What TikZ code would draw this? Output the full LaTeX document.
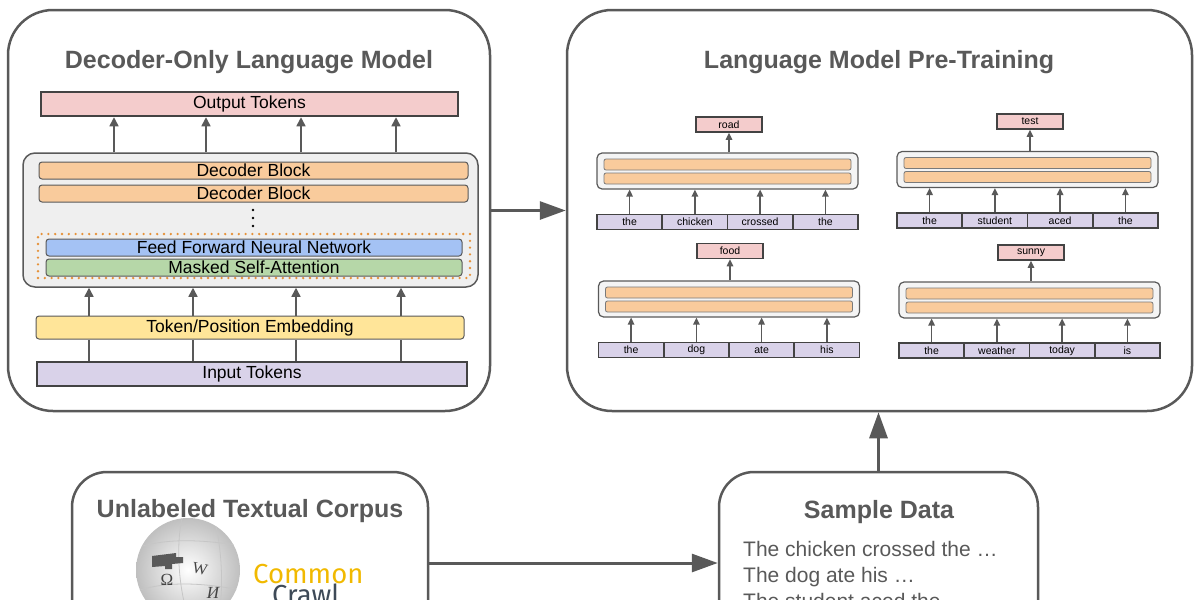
\documentclass[tikz,border=0pt]{standalone}
\usepackage{fontspec}
\setmainfont{Liberation Sans}
\newfontfamily\globefont{Liberation Serif}
\newfontfamily\crawlfont{Fira Sans}
\usetikzlibrary{arrows.meta}

\definecolor{lineGray}{HTML}{595959}
\definecolor{darkGray}{HTML}{434343}
\definecolor{outPink}{HTML}{F4CCCC}
\definecolor{blockOrange}{HTML}{F9CB9C}
\definecolor{stackGray}{HTML}{EFEFEF}
\definecolor{ffnBlue}{HTML}{A4C2F4}
\definecolor{attnGreen}{HTML}{B6D7A8}
\definecolor{embYellow}{HTML}{FFE599}
\definecolor{inPurple}{HTML}{D9D2E9}
\definecolor{dotOrange}{HTML}{E69138}
\definecolor{ccYellow}{HTML}{F1B900}
\definecolor{ccSlate}{HTML}{3E4A57}

\tikzset{
  panel/.style={draw=lineGray, line width=2.5pt, rounded corners=45pt, inner sep=0pt},
  corpusbox/.style={draw=lineGray, line width=2.5pt, rounded corners=35pt, inner sep=0pt},
  title/.style={anchor=base, inner sep=0pt, text=lineGray, font=\fontsize{25}{30}\selectfont\bfseries},
  tokbar/.style={draw=darkGray, line width=2.5pt, inner sep=0pt, font=\fontsize{17.5}{18}\selectfont},
  stack/.style={draw=lineGray, line width=1.5pt, fill=stackGray, rounded corners=12pt, inner sep=0pt},
  block/.style={draw=lineGray, line width=1pt, rounded corners=3pt, inner sep=0pt,
    minimum width=429pt, minimum height=17pt, font=\fontsize{17.5}{18}\selectfont},
  arr/.style={draw=lineGray, line width=1.5pt, -{Triangle[length=9pt,width=9pt]}},
  link/.style={draw=lineGray, line width=1.5pt},
  bigarr/.style={draw=lineGray, line width=3pt, -{Triangle[length=26pt,width=18pt]}},
  ministack/.style={draw=lineGray, line width=1.2pt, fill=gray!9, rounded corners=5pt,
    inner sep=0pt, minimum width=261pt, minimum height=36pt},
  minibar/.style={draw=lineGray!80, line width=0.8pt, fill=blockOrange, rounded corners=2pt,
    inner sep=0pt, minimum width=247pt, minimum height=11pt},
  miniout/.style={draw=darkGray, line width=1.5pt, fill=outPink, inner sep=0pt,
    minimum width=66pt, minimum height=15pt, font=\fontsize{10.5}{11}\selectfont},
  minitok/.style={draw=darkGray, line width=1.5pt, fill=inPurple, inner sep=0pt,
    minimum width=65.25pt, minimum height=15pt, font=\fontsize{10.5}{11}\selectfont},
  miniarr/.style={draw=lineGray, line width=1.3pt, -{Triangle[length=7pt,width=6.5pt]}},
  sampletext/.style={anchor=base west, inner sep=0pt, text=lineGray, font=\fontsize{21}{26}\selectfont},
  vdot/.style={circle, fill=black, inner sep=0pt, minimum size=2.6pt}
}

\begin{document}
\begin{tikzpicture}[x=1pt,y=1pt,yscale=-1,xscale=1]
\useasboundingbox (0,0) rectangle (1200,600);
\clip (0,0) rectangle (1200,600);

%Shape: Decoder panel
\node[panel, minimum width=482pt, minimum height=401pt] (decPanel) at (249,210.5) {};
% Text Node
\node[title] (decTitle) at (249,68) {Decoder-Only Language Model};
\node[tokbar, fill=outPink, minimum width=417pt, minimum height=24pt] (outTok) at (249.5,104) {Output Tokens};
\node[stack, minimum width=455pt, minimum height=134pt] (decStack) at (250.5,220) {};
\node[block, fill=blockOrange] (blkA) at (253.5,170.5) {Decoder Block};
\node[block, fill=blockOrange] (blkB) at (253.5,193.5) {Decoder Block};
\node[vdot] (dotA) at (253,210) {};
\node[vdot] (dotB) at (253,218) {};
\node[vdot] (dotC) at (253,226) {};
\node[draw=dotOrange, line width=2.6pt, dash pattern=on 0pt off 6.8pt, line cap=round, inner sep=0pt,
  minimum width=432pt, minimum height=44pt] (layerBox) at (254,256) {};
\node[block, fill=ffnBlue, minimum width=416pt] (ffn) at (254,247.5) {Feed Forward Neural Network};
\node[block, fill=attnGreen, minimum width=416pt] (attn) at (254,267.5) {Masked Self-Attention};
\node[block, fill=embYellow, minimum width=428pt, minimum height=23pt] (emb) at (250,327.5) {Token/Position Embedding};
\node[tokbar, fill=inPurple, minimum width=430pt, minimum height=24pt] (inTok) at (252,374) {Input Tokens};

%Straight Lines: stack to output
\draw[arr] (decStack.north -| 114,0) -- (outTok.south -| 114,0);
\draw[arr] (decStack.north -| 206,0) -- (outTok.south -| 206,0);
\draw[arr] (decStack.north -| 301,0) -- (outTok.south -| 301,0);
\draw[arr] (decStack.north -| 396,0) -- (outTok.south -| 396,0);
%Straight Lines: embedding to stack
\draw[arr] (emb.north -| 89,0) -- (decStack.south -| 89,0);
\draw[arr] (emb.north -| 193,0) -- (decStack.south -| 193,0);
\draw[arr] (emb.north -| 296,0) -- (decStack.south -| 296,0);
\draw[arr] (emb.north -| 401,0) -- (decStack.south -| 401,0);
%Straight Lines: input to embedding
\draw[link] (inTok.north -| 89,0) -- (emb.south -| 89,0);
\draw[link] (inTok.north -| 193,0) -- (emb.south -| 193,0);
\draw[link] (inTok.north -| 296,0) -- (emb.south -| 296,0);
\draw[link] (inTok.north -| 401,0) -- (emb.south -| 401,0);

%Shape: Pre-training panel
\node[panel, minimum width=625pt, minimum height=401pt] (prePanel) at (879.5,210.5) {};
% Text Node
\node[title] (preTitle) at (879,68) {Language Model Pre-Training};
\draw[bigarr] (decPanel) -- (prePanel);

% Example: road
\begin{scope}[shift={(727.5,171)}]
\node[ministack] (aStack) at (0,0) {};
\node[minibar] (aBarA) at (0,-6.5) {};
\node[minibar] (aBarB) at (0,7.5) {};
\node[miniout] (aOut) at (1.5,-46.5) {road};
\node[minitok] (aTokA) at (-97.9,51) {the};
\node[minitok] (aTokB) at (-32.6,51) {chicken};
\node[minitok] (aTokC) at (32.6,51) {crossed};
\node[minitok] (aTokD) at (97.9,51) {the};
\draw[miniarr] (aOut |- aStack.north) -- (aOut.south);
\draw[miniarr] (aTokA.north) -- (aTokA |- aStack.south);
\draw[miniarr] (aTokB.north) -- (aTokB |- aStack.south);
\draw[miniarr] (aTokC.north) -- (aTokC |- aStack.south);
\draw[miniarr] (aTokD.north) -- (aTokD |- aStack.south);
\end{scope}

% Example: test
\begin{scope}[shift={(1027.5,169.5)}]
\node[ministack] (bStack) at (0,0) {};
\node[minibar] (bBarA) at (0,-6.5) {};
\node[minibar] (bBarB) at (0,7.5) {};
\node[miniout] (bOut) at (2.5,-48) {test};
\node[minitok] (bTokA) at (-97.9,51) {the};
\node[minitok] (bTokB) at (-32.6,51) {student};
\node[minitok] (bTokC) at (32.6,51) {aced};
\node[minitok] (bTokD) at (97.9,51) {the};
\draw[miniarr] (bOut |- bStack.north) -- (bOut.south);
\draw[miniarr] (bTokA.north) -- (bTokA |- bStack.south);
\draw[miniarr] (bTokB.north) -- (bTokB |- bStack.south);
\draw[miniarr] (bTokC.north) -- (bTokC |- bStack.south);
\draw[miniarr] (bTokD.north) -- (bTokD |- bStack.south);
\end{scope}

% Example: food
\begin{scope}[shift={(729,299)}]
\node[ministack] (cStack) at (0,0) {};
\node[minibar] (cBarA) at (0,-6.5) {};
\node[minibar] (cBarB) at (0,7.5) {};
\node[miniout] (cOut) at (1,-48) {food};
\node[minitok] (cTokA) at (-97.9,51) {the};
\node[minitok] (cTokB) at (-32.6,51) {dog};
\node[minitok] (cTokC) at (32.6,51) {ate};
\node[minitok] (cTokD) at (97.9,51) {his};
\draw[miniarr] (cOut |- cStack.north) -- (cOut.south);
\draw[miniarr] (cTokA.north) -- (cTokA |- cStack.south);
\draw[miniarr] (cTokB.north) -- (cTokB |- cStack.south);
\draw[miniarr] (cTokC.north) -- (cTokC |- cStack.south);
\draw[miniarr] (cTokD.north) -- (cTokD |- cStack.south);
\end{scope}

% Example: sunny
\begin{scope}[shift={(1029.5,300)}]
\node[ministack] (dStack) at (0,0) {};
\node[minibar] (dBarA) at (0,-6.5) {};
\node[minibar] (dBarB) at (0,7.5) {};
\node[miniout] (dOut) at (1.5,-47.5) {sunny};
\node[minitok] (dTokA) at (-97.9,50.5) {the};
\node[minitok] (dTokB) at (-32.6,50.5) {weather};
\node[minitok] (dTokC) at (32.6,50.5) {today};
\node[minitok] (dTokD) at (97.9,50.5) {is};
\draw[miniarr] (dOut |- dStack.north) -- (dOut.south);
\draw[miniarr] (dTokA.north) -- (dTokA |- dStack.south);
\draw[miniarr] (dTokB.north) -- (dTokB |- dStack.south);
\draw[miniarr] (dTokC.north) -- (dTokC |- dStack.south);
\draw[miniarr] (dTokD.north) -- (dTokD |- dStack.south);
\end{scope}

%Shape: Corpus and sample boxes
\node[corpusbox, minimum width=356pt, minimum height=182pt] (corpus) at (250,563) {};
\node[corpusbox, minimum width=319pt, minimum height=182pt] (sample) at (878.5,563) {};
\draw[bigarr] (corpus) -- (sample);
\draw[bigarr] (sample.north) -- (sample.north |- prePanel.south);

% Text Node
\node[title] (corpusTitle) at (250,517) {Unlabeled Textual Corpus};
\node[title] (sampleTitle) at (879,518) {Sample Data};
\node[sampletext] (sampleA) at (743,556) {The chicken crossed the …};
\node[sampletext] (sampleB) at (743,582) {The dog ate his …};
\node[sampletext] (sampleC) at (743,608) {The student aced the …};

%Shape: Globe
\node[circle, inner sep=0pt, minimum size=104pt, inner color=white, outer color=gray!50] (globe) at (188,570) {};
\begin{scope}
\clip (globe.center) circle (52);
\draw[gray!45, line width=0.8pt] (136,548) .. controls (160,540) and (190,538) .. (236,545);
\draw[gray!45, line width=0.8pt] (140,590) .. controls (165,582) and (200,582) .. (240,590);
\draw[gray!45, line width=0.8pt] (182,518) .. controls (176,545) and (178,590) .. (190,622);
\draw[gray!45, line width=0.8pt] (215,522) .. controls (222,550) and (224,590) .. (218,622);
\fill[gray!70!black] (152,556) -- (176,553) -- (176,557) -- (183,557) -- (183,563) -- (172,564) -- (172,569) -- (165,569) -- (165,566) -- (152,567) -- cycle;
\end{scope}
\node[inner sep=0pt, text=darkGray, font=\globefont\fontsize{17}{17}\selectfont] (globeOmega) at (167,580) {Ω};
\node[inner sep=0pt, text=darkGray, font=\globefont\fontsize{16}{16}\selectfont, rotate=-12] (globeW) at (200,569) {W};
\node[inner sep=0pt, text=darkGray, font=\globefont\itshape\fontsize{17}{17}\selectfont] (globeI) at (213,593) {И};

% Text Node
\node[anchor=base west, inner sep=0pt, text depth=0pt, text=ccYellow, font=\crawlfont\fontsize{27.5}{28}\selectfont] (ccCommon) at (253,583) {Common};
\node[anchor=base west, inner sep=0pt, text=ccSlate, font=\crawlfont\fontsize{27.5}{28}\selectfont] (ccCrawl) at (272,604) {Crawl};

\end{tikzpicture}
\end{document}
